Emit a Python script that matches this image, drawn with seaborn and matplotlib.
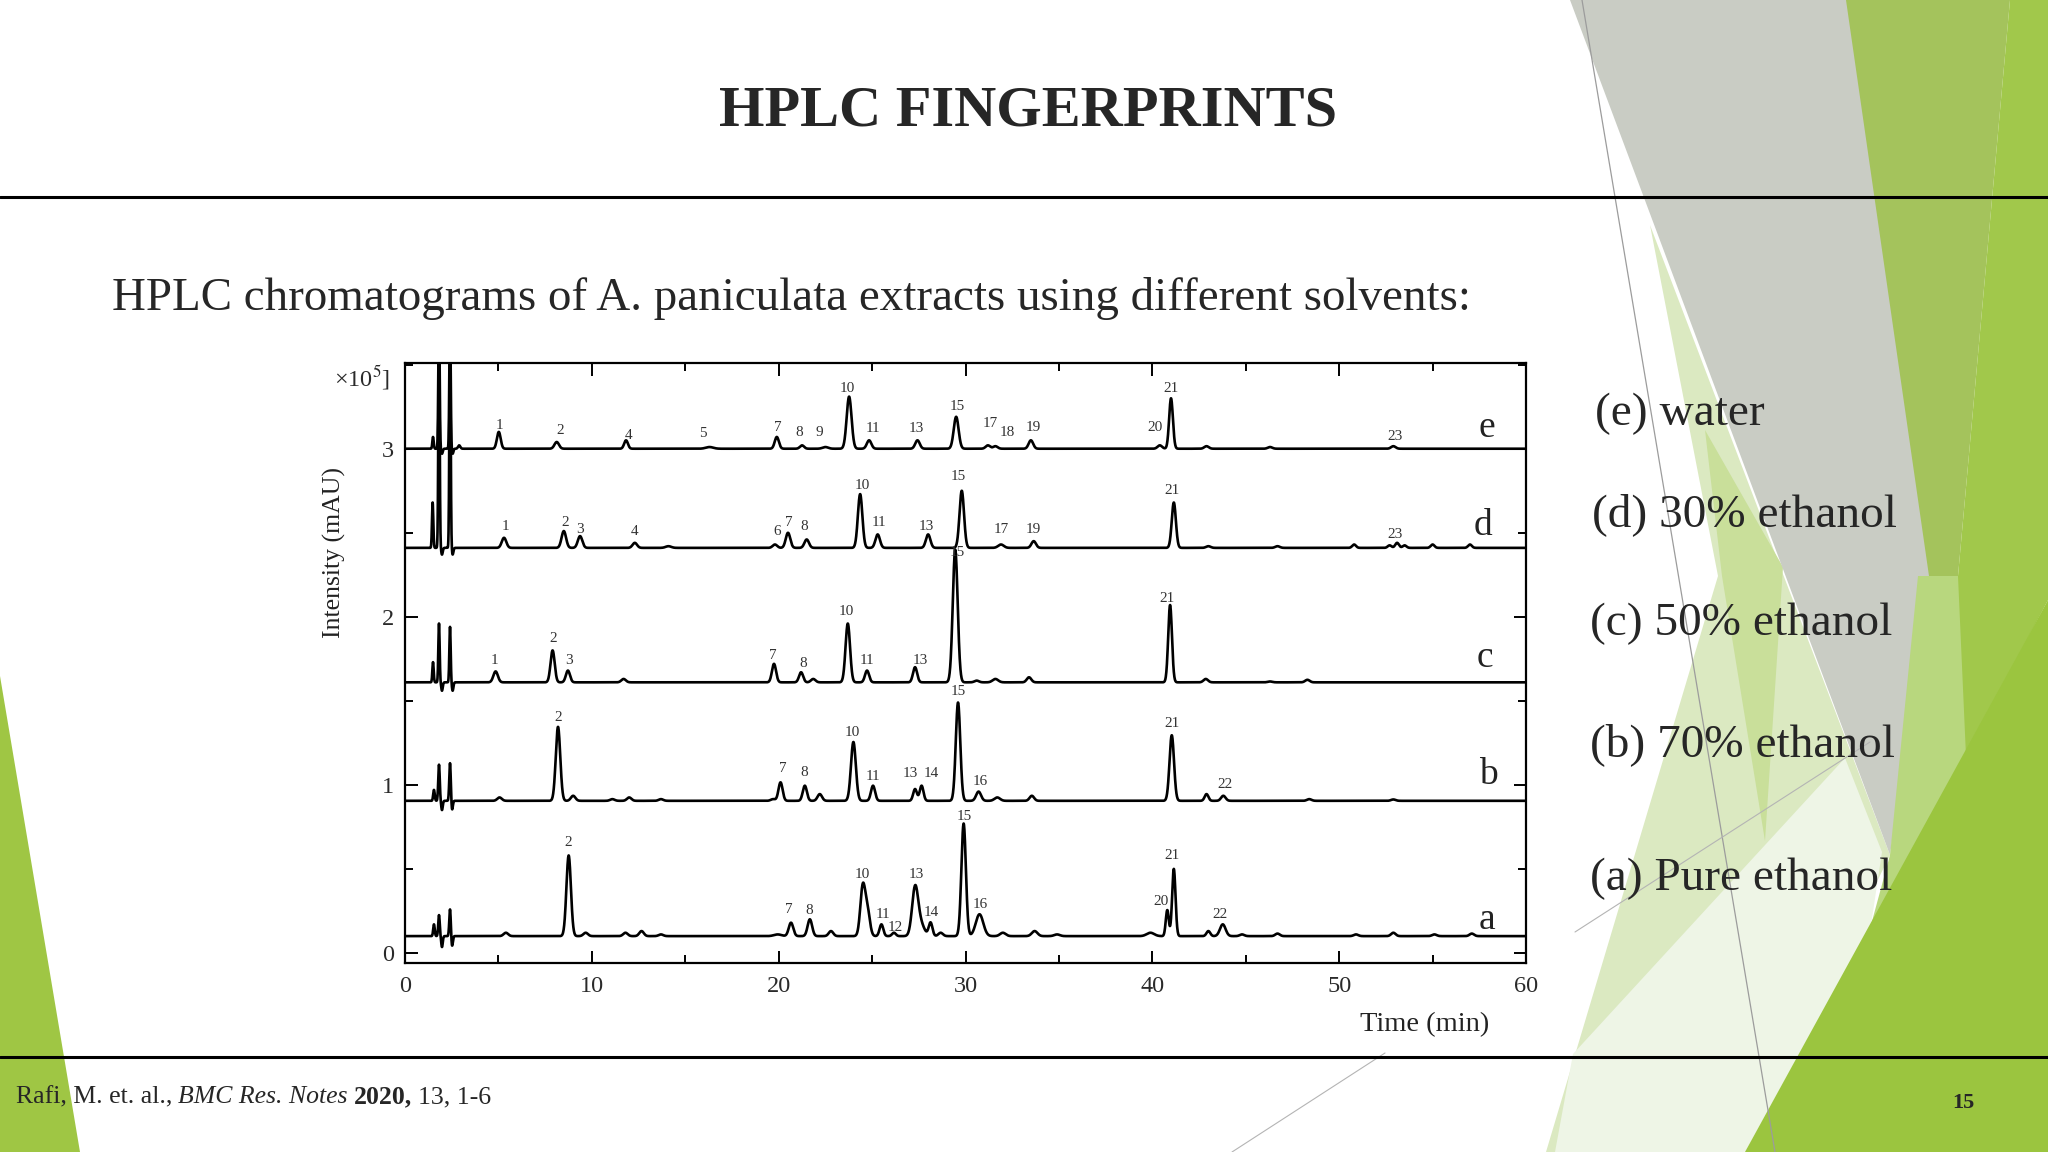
import numpy as np
import pandas as pd
import matplotlib
matplotlib.use("Agg")
import matplotlib.pyplot as plt
from matplotlib.patches import Polygon
from matplotlib.ticker import MultipleLocator
import seaborn as sns

# ---------------- data ----------------
# retention time (min), peak height above baseline (x10^5 mAU), peak sigma (min)
a_offset = 0.10
a_time = [1.55, 1.82, 1.98, 2.41, 2.52, 5.4, 8.76, 9.67, 11.8, 12.66, 13.7, 19.95, 20.66, 21.67,
          22.8, 24.5, 24.75, 25.5, 26.17, 27.3, 27.6, 28.13, 28.67, 29.9, 30.75, 32.0, 33.7,
          34.9, 39.9, 40.8, 41.15, 43.0, 43.77, 44.8, 46.7, 50.9, 52.9, 55.1, 57.1]
a_height = [0.07, 0.125, -0.065, 0.16, -0.06, 0.02, 0.48, 0.02, 0.02, 0.03, 0.01, 0.01, 0.08, 0.10,
            0.03, 0.29, 0.15, 0.07, 0.02, 0.28, 0.07, 0.08, 0.02, 0.67, 0.13, 0.02, 0.03,
            0.01, 0.02, 0.155, 0.40, 0.03, 0.07, 0.01, 0.015, 0.01, 0.02, 0.01, 0.015]
a_width = [0.04, 0.04, 0.04, 0.04, 0.04, 0.12, 0.12, 0.12, 0.12, 0.12, 0.12, 0.2, 0.12, 0.12,
           0.12, 0.13, 0.13, 0.1, 0.1, 0.16, 0.2, 0.1, 0.12, 0.12, 0.2, 0.15, 0.15,
           0.15, 0.2, 0.08, 0.09, 0.1, 0.15, 0.12, 0.12, 0.12, 0.12, 0.12, 0.12]

b_offset = 0.905
b_time = [1.55, 1.82, 1.98, 2.41, 2.52, 5.06, 8.19, 9.0, 11.1, 12.0, 13.7, 19.7, 20.1, 21.4,
          22.2, 24.0, 25.05, 27.3, 27.65, 29.6, 30.7, 31.7, 33.55, 41.04, 42.9, 43.8, 48.4, 52.9]
b_height = [0.065, 0.215, -0.055, 0.225, -0.055, 0.02, 0.44, 0.03, 0.01, 0.02, 0.01, 0.01, 0.11, 0.09,
            0.04, 0.35, 0.09, 0.07, 0.09, 0.585, 0.055, 0.02, 0.03, 0.39, 0.04, 0.03, 0.01, 0.008]
b_width = [0.04, 0.04, 0.04, 0.04, 0.04, 0.12, 0.12, 0.12, 0.12, 0.12, 0.12, 0.12, 0.11, 0.11,
           0.12, 0.13, 0.11, 0.1, 0.1, 0.12, 0.13, 0.15, 0.12, 0.12, 0.1, 0.12, 0.12, 0.12]

c_offset = 1.61
c_time = [1.5, 1.82, 1.98, 2.41, 2.55, 4.85, 7.9, 8.72, 11.7, 19.75, 21.2, 21.85, 23.7, 24.73,
          27.3, 29.45, 30.6, 31.6, 33.4, 40.95, 42.86, 46.3, 48.3]
c_height = [0.12, 0.35, -0.05, 0.33, -0.05, 0.065, 0.19, 0.07, 0.02, 0.11, 0.06, 0.02, 0.35, 0.07,
            0.09, 0.79, 0.01, 0.02, 0.03, 0.46, 0.02, 0.005, 0.015]
c_width = [0.035, 0.035, 0.04, 0.035, 0.04, 0.12, 0.11, 0.11, 0.12, 0.11, 0.11, 0.12, 0.12, 0.11,
           0.11, 0.13, 0.12, 0.15, 0.12, 0.1, 0.12, 0.12, 0.12]

d_offset = 2.41
d_time = [1.48, 1.82, 1.98, 2.41, 2.55, 5.3, 8.5, 9.37, 12.3, 14.1, 19.8, 20.5, 21.5, 24.36,
          25.3, 28.0, 29.8, 31.9, 33.65, 41.15, 43.0, 46.7, 50.8, 52.7, 53.1, 53.5, 55.0, 57.0]
d_height = [0.27, 1.3, -0.04, 1.3, -0.04, 0.06, 0.10, 0.07, 0.03, 0.01, 0.02, 0.09, 0.05, 0.32,
            0.08, 0.08, 0.34, 0.02, 0.04, 0.27, 0.01, 0.01, 0.02, 0.015, 0.03, 0.015, 0.02, 0.02]
d_width = [0.035, 0.035, 0.04, 0.035, 0.04, 0.12, 0.12, 0.12, 0.12, 0.15, 0.12, 0.12, 0.12, 0.12,
           0.12, 0.12, 0.12, 0.15, 0.12, 0.11, 0.12, 0.12, 0.1, 0.1, 0.1, 0.1, 0.1, 0.1]

e_offset = 3.0
e_time = [1.5, 1.82, 1.98, 2.41, 2.55, 2.9, 5.02, 8.12, 11.83, 16.3, 19.9, 21.25, 22.5, 23.77,
          24.84, 27.43, 29.5, 31.2, 31.6, 33.5, 40.4, 41.0, 42.9, 46.3, 52.9]
e_height = [0.07, 0.8, -0.03, 0.8, -0.03, 0.02, 0.10, 0.04, 0.05, 0.01, 0.07, 0.02, 0.01, 0.31,
            0.05, 0.05, 0.19, 0.02, 0.015, 0.05, 0.02, 0.30, 0.015, 0.01, 0.015]
e_width = [0.035, 0.035, 0.04, 0.035, 0.04, 0.06, 0.1, 0.12, 0.1, 0.2, 0.11, 0.11, 0.15, 0.13,
           0.12, 0.12, 0.13, 0.12, 0.12, 0.12, 0.12, 0.1, 0.12, 0.12, 0.12]

# peak numbers printed on the chart: label, time (min), level (x10^5)
a_lab = ["2", "7", "8", "10", "11", "12", "13", "14", "15", "16", "20", "21", "22"]
a_lab_t = [8.76, 20.55, 21.63, 24.5, 25.57, 26.23, 27.36, 28.15, 29.92, 30.78, 40.47, 41.04, 43.63]
a_lab_y = [0.657, 0.256, 0.25, 0.464, 0.226, 0.153, 0.464, 0.238, 0.81, 0.286, 0.305, 0.577, 0.23]

b_lab = ["2", "7", "8", "10", "11", "13", "14", "15", "16", "21", "22"]
b_lab_t = [8.19, 20.2, 21.34, 23.93, 25.04, 27.04, 28.15, 29.63, 30.78, 41.04, 43.88]
b_lab_y = [1.40, 1.10, 1.075, 1.31, 1.05, 1.07, 1.07, 1.555, 1.02, 1.367, 1.0]

c_lab = ["1", "2", "3", "7", "8", "10", "11", "13", "15", "21"]
c_lab_t = [4.78, 7.95, 8.78, 19.66, 21.3, 23.6, 24.73, 27.6, 29.55, 40.8]
c_lab_y = [1.74, 1.87, 1.74, 1.77, 1.72, 2.03, 1.74, 1.74, 2.38, 2.11]

d_lab = ["1", "2", "3", "4", "6", "7", "8", "10", "11", "13", "15", "17", "19", "21", "23"]
d_lab_t = [5.36, 8.55, 9.37, 12.27, 19.9, 20.55, 21.34, 24.5, 25.37, 27.9, 29.63, 31.94, 33.65, 41.04, 53.0]
d_lab_y = [2.54, 2.56, 2.52, 2.51, 2.51, 2.56, 2.54, 2.78, 2.56, 2.54, 2.835, 2.52, 2.52, 2.75, 2.49]

e_lab = ["1", "2", "4", "5", "7", "8", "9", "10", "11", "13", "15", "17", "18", "19", "20", "21", "23"]
e_lab_t = [5.06, 8.29, 11.94, 15.95, 19.95, 21.1, 22.2, 23.66, 25.04, 27.36, 29.58, 31.34, 32.23,
           33.65, 40.15, 40.99, 53.0]
e_lab_y = [3.14, 3.11, 3.08, 3.09, 3.125, 3.095, 3.095, 3.36, 3.12, 3.12, 3.25, 3.15, 3.095,
           3.125, 3.125, 3.36, 3.07]

trace_names = ["a", "b", "c", "d", "e"]
trace_letter_t = [57.9, 58.0, 57.8, 57.7, 57.9]
trace_letter_y = [0.196, 1.06, 1.755, 2.54, 3.125]

solvents = ["(e) water", "(d) 30% ethanol", "(c) 50% ethanol", "(b) 70% ethanol", "(a) Pure ethanol"]

x_ticks = [0, 10, 20, 30, 40, 50, 60]
y_ticks = [0, 1, 2, 3]

# ---------------- build the traces ----------------
tables = {
    "a": (a_offset, a_time, a_height, a_width),
    "b": (b_offset, b_time, b_height, b_width),
    "c": (c_offset, c_time, c_height, c_width),
    "d": (d_offset, d_time, d_height, d_width),
    "e": (e_offset, e_time, e_height, e_width),
}
t_grid = np.round(np.arange(0, 60.0001, 0.01), 3)
frames = []
for name, (off, tt, hh, ww) in tables.items():
    y = np.full_like(t_grid, off)
    for t0, h, w in zip(tt, hh, ww):
        y = y + h * np.exp(-0.5 * ((t_grid - t0) / w) ** 2)
    frames.append(pd.DataFrame({"time": t_grid, "intensity": y, "trace": name}))
df = pd.concat(frames, ignore_index=True)

labels = {
    "a": (a_lab, a_lab_t, a_lab_y),
    "b": (b_lab, b_lab_t, b_lab_y),
    "c": (c_lab, c_lab_t, c_lab_y),
    "d": (d_lab, d_lab_t, d_lab_y),
    "e": (e_lab, e_lab_t, e_lab_y),
}

# ---------------- figure ----------------
sns.set_theme(style="ticks")
plt.rcParams["font.family"] = ["Liberation Serif", "DejaVu Serif"]
plt.rcParams["mathtext.fontset"] = "stix"

W, H = 2048, 1152
fig = plt.figure(figsize=(20.48, 11.52), dpi=100)
fig.patch.set_facecolor("white")

# slide background (pixel coordinates)
bg = fig.add_axes([0, 0, 1, 1], zorder=0)
bg.set_xlim(0, W)
bg.set_ylim(H, 0)
bg.axis("off")

shapes = [
    ("#dbe9c1", [(1650, 225), (1718, 576), (1546, 1152), (1745, 1152), (1890, 855)]),
    ("#eef5e6", [(1845, 758), (1573, 1054), (1555, 1152), (1745, 1152), (1871, 925), (1882, 852)]),
    ("#c9df9a", [(1705, 430), (1783, 567), (1765, 841), (1722, 576)]),
    ("#c9ccc4", [(1570, 0), (1850, 0), (1930, 576), (1890, 855)]),
    ("#a4c35c", [(1846, 0), (2010, 0), (1958, 576), (1929, 576)]),
    ("#b8d77e", [(1918, 576), (1960, 576), (1968, 756), (1871, 925), (1890, 855)]),
    ("#a1c84b", [(2010, 0), (2048, 0), (2048, 600), (1966, 756), (1958, 576)]),
    ("#9bc53f", [(2048, 600), (2048, 1152), (1745, 1152)]),
    ("#9fc644", [(0, 676), (80, 1152), (0, 1152)]),
]
for col, pts in shapes:
    bg.add_patch(Polygon(pts, closed=True, facecolor=col, edgecolor="none", zorder=1))

bg.plot([1582, 1775], [0, 1152], color="#9c9c9c", lw=0.9, zorder=2)
bg.plot([1232, 1385], [1152, 1053], color="#b4b4b4", lw=0.8, zorder=2)
bg.plot([1575, 1870], [932, 742], color="#b4b4b4", lw=0.8, zorder=2)
bg.plot([0, W], [197, 197], color="black", lw=2.2, zorder=3)
bg.plot([0, W], [1057, 1057], color="black", lw=2.2, zorder=3)

bg.text(1028, 125, "HPLC FINGERPRINTS", ha="center", va="baseline",
        fontsize=42, fontweight="bold", zorder=4)
bg.text(112, 310, "HPLC chromatograms of A. paniculata extracts using different solvents:",
        ha="left", va="baseline", fontsize=33.8, zorder=4)

solvent_x = [1595, 1592, 1590, 1590, 1590]
solvent_y = [425, 526, 635, 756, 890]
for s, sx, sy in zip(solvents, solvent_x, solvent_y):
    bg.text(sx, sy, s, ha="left", va="baseline", fontsize=34, zorder=4)

# citation with mixed styles
seg = bg.text(16, 1103, "Rafi, M. et. al.,", ha="left", va="baseline", fontsize=18.5, zorder=4)
for txt, kw in [("BMC Res. Notes", {"style": "italic"}),
                ("2020,", {"fontweight": "bold"}),
                ("13, 1-6", {})]:
    seg = bg.annotate(txt, xy=(1, 0), xycoords=seg, xytext=(6, 0), textcoords="offset pixels",
                      ha="left", va="bottom", fontsize=18.5, zorder=4, **kw)
bg.text(1963, 1108, "15", ha="center", va="baseline", fontsize=16, fontweight="bold", zorder=4)

# chromatogram axes
x0, x1, y0, y1 = 405, 1526, 363, 963
ax = fig.add_axes([x0 / W, (H - y1) / H, (x1 - x0) / W, (y1 - y0) / H], zorder=2)
ax.set_facecolor("white")

sns.lineplot(data=df, x="time", y="intensity", units="trace", estimator=None,
             color="black", linewidth=1.9, sort=False, legend=False, ax=ax)

ax.set_xlim(0, 60)
ax.set_ylim(-0.06, 3.51)
ax.set_xticks(x_ticks)
ax.set_yticks(y_ticks)
ax.xaxis.set_minor_locator(MultipleLocator(5))
ax.yaxis.set_minor_locator(MultipleLocator(0.5))
ax.tick_params(which="both", direction="in", top=True, right=True, width=1.4, colors="black",
               labelcolor="#2a2a2a", labelsize=17.5)
ax.tick_params(which="major", length=9)
ax.tick_params(which="minor", length=5.5)
ax.tick_params(axis="x", pad=9)
ax.tick_params(axis="y", pad=8)
for sp in ax.spines.values():
    sp.set_linewidth(1.6)
    sp.set_color("black")

ax.set_xlabel("Time (min)", fontsize=20.5, color="#222222")
ax.xaxis.set_label_coords((1425 - x0) / (x1 - x0), (y1 - 1012) / (y1 - y0))
ax.set_ylabel("Intensity (mAU)", fontsize=18.5, color="#222222")
ax.yaxis.set_label_coords((346 - x0) / (x1 - x0), (y1 - 552) / (y1 - y0))
ax.text((390 - x0) / (x1 - x0), (y1 - 386) / (y1 - y0), r"×10$^{5}$]", transform=ax.transAxes,
        ha="right", va="baseline", fontsize=17.5, color="#2a2a2a")

for name in trace_names:
    labs, lt, ly = labels[name]
    for s, t, yv in zip(labs, lt, ly):
        ax.text(t, yv, s, ha="center", va="center", fontsize=11, color="#333333")
for name, t, yv in zip(trace_names, trace_letter_t, trace_letter_y):
    ax.text(t, yv, name, ha="center", va="center", fontsize=27, color="#222222")

fig.savefig("out.png", dpi=100)
